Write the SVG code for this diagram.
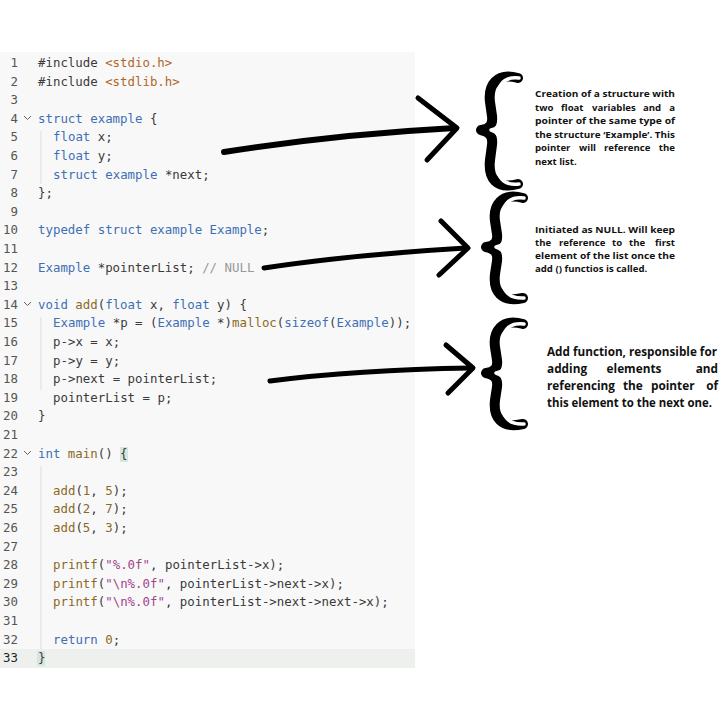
<svg xmlns="http://www.w3.org/2000/svg" width="720" height="720" viewBox="0 0 720 720">
<style>
.c{font-family:"DejaVu Sans Mono",monospace;font-size:12.4px;fill:#3a3a3a;white-space:pre}
.n{font-family:"DejaVu Sans Mono",monospace;font-size:12.4px;fill:#555;text-anchor:end}
.k{fill:#3f6fb5}.i{fill:#b0662a}.f{fill:#8a6a1f}.m{fill:#999}.s{fill:#a0458a}
.t{font-family:"Open Sans","Liberation Sans",sans-serif;font-weight:bold;font-size:9.6px;fill:#111}
.t3{font-family:"Open Sans","Liberation Sans",sans-serif;font-weight:bold;font-size:11.8px;fill:#111}
.br{fill:none;stroke:#000;stroke-width:10;stroke-linejoin:round;stroke-linecap:round}
.bw{fill:none;stroke:#fff;stroke-width:3.5;stroke-linejoin:round;stroke-linecap:round}
.ar{fill:none;stroke:#000;stroke-linecap:round;stroke-linejoin:round}
</style>
<rect width="720" height="720" fill="#fff"/>
<g id="code">
<rect x="0" y="52" width="415" height="616" fill="#f8f8f8"/>
<rect x="0" y="649" width="415" height="19" fill="#eef0ee"/>
<line x1="41" y1="131" x2="41" y2="184" stroke="#ddd"/>
<line x1="41" y1="317" x2="41" y2="390" stroke="#ddd"/>
<line x1="41" y1="466" x2="41" y2="650" stroke="#ddd"/>
<g class="n">
<text x="18" y="67">1</text><text x="18" y="85.6">2</text><text x="18" y="104.2">3</text><text x="18" y="122.8">4</text><text x="18" y="141.4">5</text><text x="18" y="160">6</text><text x="18" y="178.6">7</text><text x="18" y="197.2">8</text><text x="18" y="215.8">9</text><text x="18" y="234.4">10</text><text x="18" y="253">11</text><text x="18" y="271.6">12</text><text x="18" y="290.2">13</text><text x="18" y="308.8">14</text><text x="18" y="327.4">15</text><text x="18" y="346">16</text><text x="18" y="364.6">17</text><text x="18" y="383.2">18</text><text x="18" y="401.8">19</text><text x="18" y="420.4">20</text><text x="18" y="439">21</text><text x="18" y="457.6">22</text><text x="18" y="476.2">23</text><text x="18" y="494.8">24</text><text x="18" y="513.4">25</text><text x="18" y="532">26</text><text x="18" y="550.6">27</text><text x="18" y="569.2">28</text><text x="18" y="587.8">29</text><text x="18" y="606.4">30</text><text x="18" y="625">31</text><text x="18" y="643.6">32</text><text x="18" y="662.2" fill="#222">33</text>
</g>
<g fill="none" stroke="#666" stroke-width="1"><path d="M24,116 l3.5,3.5 l3.5,-3.5"/><path d="M24,302 l3.5,3.5 l3.5,-3.5"/><path d="M24,451 l3.5,3.5 l3.5,-3.5"/></g>
<text class="c" x="38" y="67">#include <tspan class="i">&lt;stdio.h&gt;</tspan></text>
<text class="c" x="38" y="85.6">#include <tspan class="i">&lt;stdlib.h&gt;</tspan></text>
<text class="c" x="38" y="122.8"><tspan class="k">struct example</tspan> {</text>
<text class="c" x="53" y="141.4"><tspan class="k">float</tspan> x;</text>
<text class="c" x="53" y="160"><tspan class="k">float</tspan> y;</text>
<text class="c" x="53" y="178.6"><tspan class="k">struct example</tspan> *next;</text>
<text class="c" x="38" y="197.2">};</text>
<text class="c" x="38" y="234.4"><tspan class="k">typedef struct example Example</tspan>;</text>
<text class="c" x="38" y="271.6"><tspan class="k">Example</tspan> *pointerList; <tspan class="m">// NULL</tspan></text>
<text class="c" x="38" y="308.8"><tspan class="k">void</tspan> <tspan class="f">add</tspan>(<tspan class="k">float</tspan> x, <tspan class="k">float</tspan> y) {</text>
<text class="c" x="53" y="327.4"><tspan class="k">Example</tspan> *p = (<tspan class="k">Example</tspan> *)<tspan class="f">malloc</tspan>(<tspan class="k">sizeof</tspan>(<tspan class="k">Example</tspan>));</text>
<text class="c" x="53" y="346">p-&gt;x = x;</text>
<text class="c" x="53" y="364.6">p-&gt;y = y;</text>
<text class="c" x="53" y="383.2">p-&gt;next = pointerList;</text>
<text class="c" x="53" y="401.8">pointerList = p;</text>
<text class="c" x="38" y="420.4">}</text>
<rect x="120" y="447" width="8" height="15" fill="#d5e6df"/>
<text class="c" x="38" y="457.6"><tspan class="k">int</tspan> <tspan class="f">main</tspan>() {</text>
<text class="c" x="53" y="494.8"><tspan class="f">add</tspan>(<tspan class="f">1</tspan>, <tspan class="f">5</tspan>);</text>
<text class="c" x="53" y="513.4"><tspan class="f">add</tspan>(<tspan class="f">2</tspan>, <tspan class="f">7</tspan>);</text>
<text class="c" x="53" y="532"><tspan class="f">add</tspan>(<tspan class="f">5</tspan>, <tspan class="f">3</tspan>);</text>
<text class="c" x="53" y="569.2"><tspan class="f">printf</tspan>(<tspan class="s">"%.0f"</tspan>, pointerList-&gt;x);</text>
<text class="c" x="53" y="587.8"><tspan class="f">printf</tspan>(<tspan class="s">"\n%.0f"</tspan>, pointerList-&gt;next-&gt;x);</text>
<text class="c" x="53" y="606.4"><tspan class="f">printf</tspan>(<tspan class="s">"\n%.0f"</tspan>, pointerList-&gt;next-&gt;next-&gt;x);</text>
<text class="c" x="53" y="643.6"><tspan class="k">return</tspan> <tspan class="f">0</tspan>;</text>
<rect x="37" y="651" width="8" height="15" fill="#d5e6df"/>
<text class="c" x="38" y="662.2">}</text>
</g>
<g id="connectors">
<path class="ar" stroke-width="6" d="M224,152 C300,140 380,132 455,128"/>
<path class="ar" stroke-width="5" d="M418,98 L457,128 L427,160"/>
<path class="ar" stroke-width="5" d="M264,268 C330,258 400,252 466,248"/>
<path class="ar" stroke-width="5" d="M441,221 L468,248 L439,275"/>
<path class="ar" stroke-width="5" d="M270,381 C340,372 410,369 471,368"/>
<path class="ar" stroke-width="5" d="M446,345 L473,368 L448,393"/>
</g>
<g id="brace1">
<path class="br" d="M518,78 C496,72 488,86 490,102 L492,116 C493,124 490,129 481,130 C490,132 493,137 492,145 L490,160 C488,178 496,190 518,184"/>
<path class="bw" d="M519,78 C502,76 496,88 498,102 L500,116 C501,124 498,129 491,130 C498,132 501,137 500,145 L498,160 C496,176 502,186 519,184"/>
</g>
<g id="brace2">
<path class="br" d="M523,198 C501,192 493,206 495,221 L497,234 C498,241 495,246 486,247 C495,249 498,253 497,261 L495,274 C493,291 501,303 523,298"/>
<path class="bw" d="M524,198 C507,196 501,207 503,221 L505,234 C506,241 503,246 496,247 C503,249 506,253 505,261 L503,274 C501,289 507,299 524,298"/>
</g>
<g id="brace3">
<path class="br" d="M523,324 C501,318 493,332 495,347 L497,360 C498,367 495,372 486,373 C495,375 498,379 497,387 L495,400 C493,417 501,429 523,424"/>
<path class="bw" d="M524,324 C507,322 501,333 503,347 L505,360 C506,367 503,372 496,373 C503,375 506,379 505,387 L503,400 C501,415 507,425 524,424"/>
</g>
<g id="note1" class="t">
<text x="535" y="97" textLength="140" lengthAdjust="spacingAndGlyphs">Creation of a structure with</text>
<text x="535" y="110.5">two</text><text x="561" y="110.5">float</text><text x="592" y="110.5">variables</text><text x="643" y="110.5">and</text><text x="675" y="110.5" text-anchor="end">a</text>
<text x="535" y="124" textLength="140" lengthAdjust="spacingAndGlyphs">pointer of the same type of</text>
<text x="535" y="137.5" textLength="140" lengthAdjust="spacingAndGlyphs">the structure ‘Example’. This</text>
<text x="535" y="151">pointer</text><text x="579" y="151">will</text><text x="604" y="151">reference</text><text x="675" y="151" text-anchor="end">the</text>
<text x="535" y="164.5">next list.</text>
</g>
<g id="note2" class="t">
<text x="535" y="233" textLength="140" lengthAdjust="spacingAndGlyphs">Initiated as NULL. Will keep</text>
<text x="535" y="246">the</text><text x="559" y="246">reference</text><text x="612" y="246">to</text><text x="629" y="246">the</text><text x="675" y="246" text-anchor="end">first</text>
<text x="535" y="259" textLength="140" lengthAdjust="spacingAndGlyphs">element of the list once the</text>
<text x="535" y="272">add () functios is called.</text>
</g>
<g id="note3" class="t3">
<text x="547" y="356" textLength="170" lengthAdjust="spacingAndGlyphs">Add function, responsible for</text>
<text x="547" y="373">adding</text><text x="634" y="373" text-anchor="middle">elements</text><text x="718" y="373" text-anchor="end">and</text>
<text x="547" y="390">referencing</text><text x="623" y="390">the</text><text x="651" y="390">pointer</text><text x="718" y="390" text-anchor="end">of</text>
<text x="547" y="407" textLength="165" lengthAdjust="spacingAndGlyphs">this element to the next one.</text>
</g>
</svg>
